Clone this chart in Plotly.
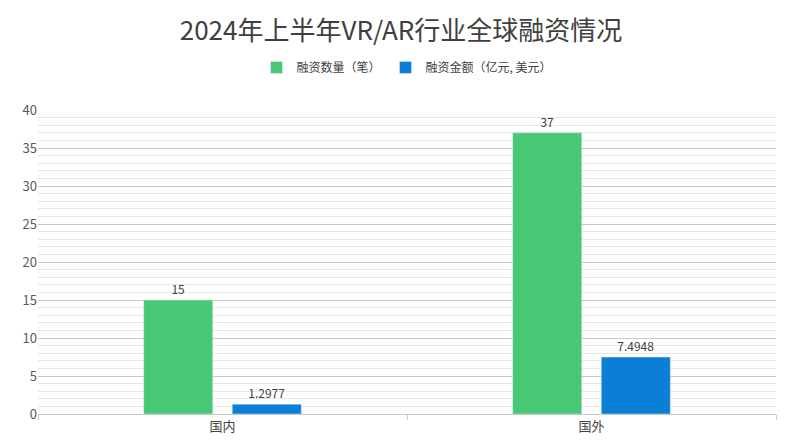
import plotly.graph_objects as go

categories = ["国内", "国外"]
count_vals = [15, 37]
amount_vals = [1.2977, 7.4948]
count_labels = ["15", "37"]
amount_labels = ["1.2977", "7.4948"]

font = "Noto Sans CJK SC"
fig = go.Figure()
fig.add_bar(x=categories, y=count_vals, name="融资数量（笔）", marker_color="#48C774",
            text=count_labels, textposition="outside", textfont=dict(size=12, color="#404040"), cliponaxis=False)
fig.add_bar(x=categories, y=amount_vals, name="融资金额（亿元, 美元）", marker_color="#0B7FD6",
            text=amount_labels, textposition="outside", textfont=dict(size=12, color="#404040"), cliponaxis=False)

fig.update_layout(
    width=786, height=445,
    margin=dict(l=30, r=18, t=102, b=39),
    paper_bgcolor="white", plot_bgcolor="white",
    font=dict(family=font, color="#595959", size=12),
    title=dict(text="2024年上半年VR/AR行业全球融资情况", x=0.5, xanchor="center", y=0.97, yanchor="top",
               font=dict(size=26, color="#404040", family=font)),
    legend=dict(orientation="h", x=0.5, xanchor="center", y=1.14, yanchor="middle",
                font=dict(size=12, color="#404040"), itemwidth=30),
    barmode="group", bargap=0.52, bargroupgap=0.22,
    showlegend=True,
)
fig.update_yaxes(range=[0, 40], dtick=5, showgrid=True, gridcolor="#C8C8C8", gridwidth=1,
                 minor=dict(dtick=1, showgrid=True, gridcolor="#E6E6E6", gridwidth=1),
                 tickfont=dict(size=13, color="#595959"), zeroline=False, ticks="", fixedrange=True)
fig.update_xaxes(showline=True, linecolor="#C8C8C8", ticks="outside", tickcolor="#C8C8C8",
                 tickson="boundaries", ticklen=5, tickfont=dict(size=13, color="#404040"))

fig.write_html("out.html")
